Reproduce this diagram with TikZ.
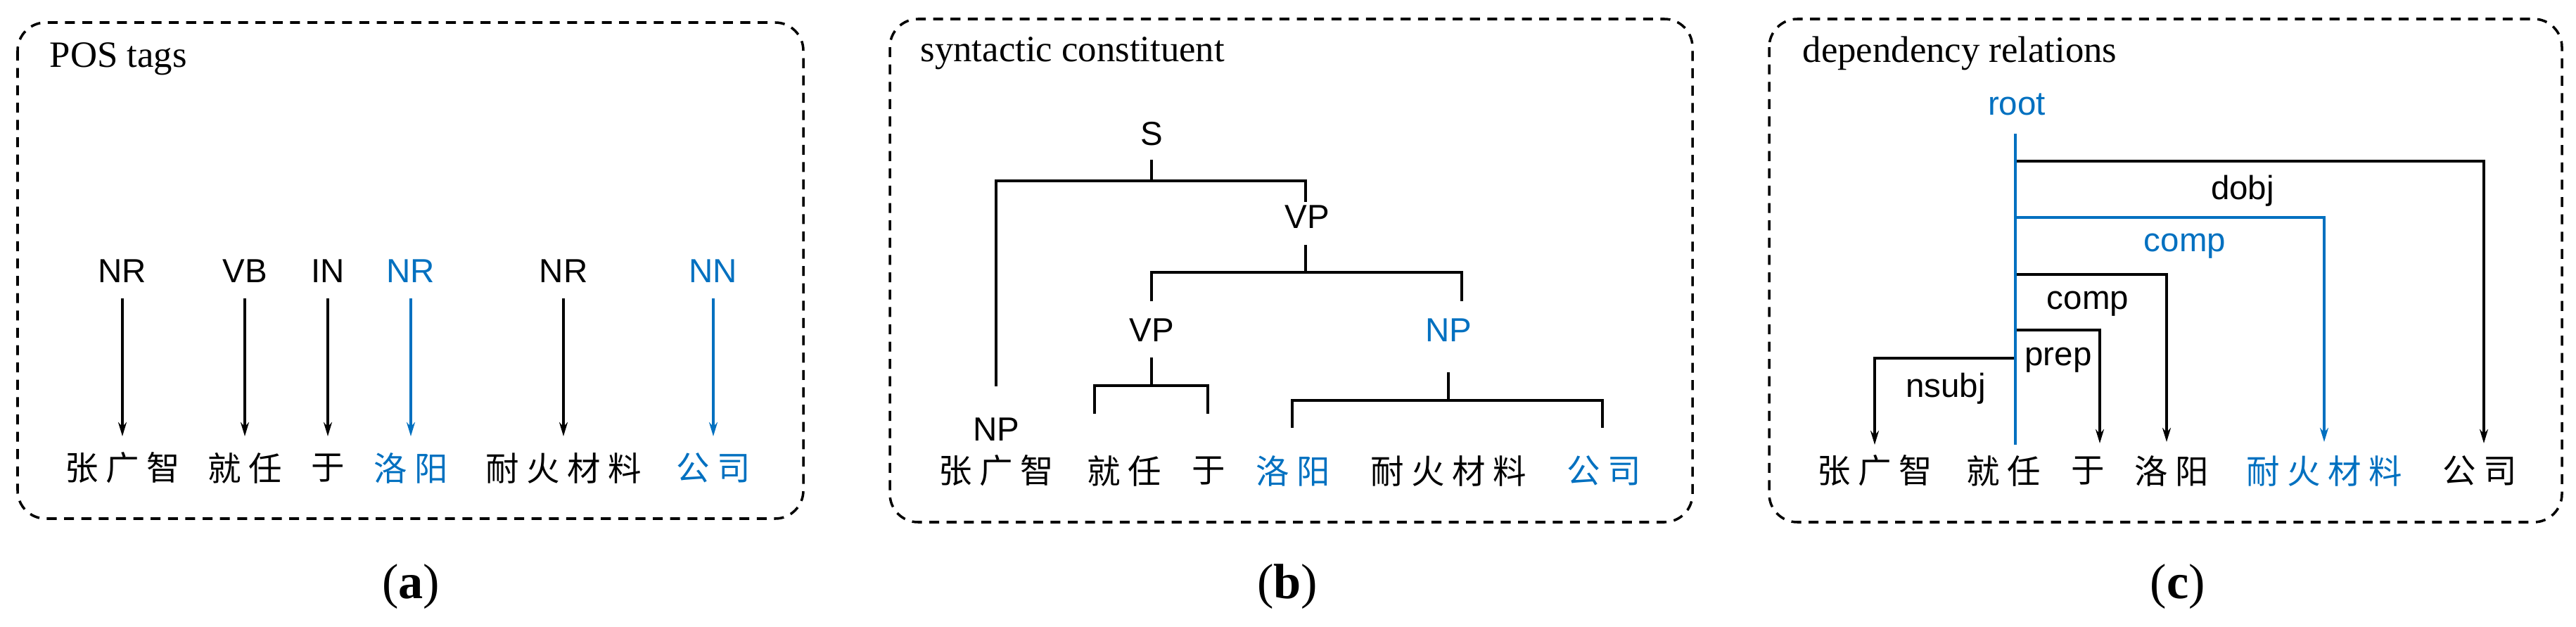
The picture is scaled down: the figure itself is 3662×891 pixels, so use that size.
\documentclass[tikz,border=0pt]{standalone}
\usepackage{fontspec}
\setmainfont{Liberation Serif}
\newfontfamily\tagf{Liberation Sans}
\newfontfamily\cjk[LetterSpace=22]{Noto Sans CJK SC}
\usetikzlibrary{arrows.meta}
\definecolor{myblue}{HTML}{0070C0}
\begin{document}
\begin{tikzpicture}[x=0.01cm,y=-0.01cm,
  lw/.style={line width=0.9pt},
  frame/.style={draw,dashed,line width=1pt,rounded corners=0.4cm,dash pattern=on 4pt off 3pt},
  ttl/.style={font=\fontsize{15}{17}\selectfont,anchor=west,inner sep=0},
  tag/.style={font=\tagf\fontsize{13.5}{15}\selectfont,inner sep=1pt},
  word/.style={font=\cjk\fontsize{13.5}{15}\selectfont,inner sep=1pt},
  captxt/.style={font=\fontsize{20}{22}\selectfont},
  arr/.style={lw,-{Stealth[length=0.2cm,width=0.12cm]}},
  blu/.style={text=myblue}]
\useasboundingbox (0,0) rectangle (3662,891);
% frames
\draw[frame] (25,32) rectangle (1142,737);
\draw[frame] (1265,27) rectangle (2406,742);
\draw[frame] (2515,27) rectangle (3642,742);
\node[ttl] (ta) at (70,84) {POS tags};
\node[ttl] (tb) at (1308,76) {syntactic constituent};
\node[ttl] (tc) at (2562,76) {dependency relations};
\node[captxt] (la) at (584,834) {(\textbf{a})};
\node[captxt] (lb) at (1830,834) {(\textbf{b})};
\node[captxt] (lc) at (3096,834) {(\textbf{c})};
% panel a
\foreach \n/\x/\t/\w/\c in {a1/174/NR/张广智/black,a2/348/VB/就任/black,a3/466/IN/于/black,a4/584/NR/洛阳/myblue,a5/801/NR/耐火材料/black,a6/1014/NN/公司/myblue}{
  \node[tag,text=\c] (t\n) at (\x,385) {\t};
  \node[word,text=\c] (w\n) at (\x,665) {\w};
  \draw[arr,draw=\c] (\x,424) -- (\x,620);
}
% panel b
\node[tag] (bS) at (1637,190) {S};
\node[tag] (bVP) at (1858,308) {VP};
\node[tag] (bVP2) at (1637,469) {VP};
\node[tag,blu] (bNP2) at (2059,469) {NP};
\node[tag] (bNP) at (1416,610) {NP};
\foreach \n/\x/\w/\c in {b1/1416/张广智/black,b2/1598/就任/black,b3/1718/于/black,b4/1838/洛阳/myblue,b5/2059/耐火材料/black,b6/2280/公司/myblue}{
  \node[word,text=\c] (w\n) at (\x,669) {\w};
}
\draw[lw] (1637,227) -- (1637,257);
\draw[lw] (1416,549) -- (1416,257) -- (1856,257) -- (1856,287);
\draw[lw] (1856,348) -- (1856,387);
\draw[line width=1.3pt] (1637,428) -- (1637,387) -- (2078,387) -- (2078,428);
\draw[lw] (1637,508) -- (1637,548);
\draw[line width=1.2pt] (1556,588) -- (1556,548) -- (1717,548) -- (1717,588);
\draw[lw] (2059,529) -- (2059,569);
\draw[line width=1.2pt] (1837,608) -- (1837,569) -- (2278,569) -- (2278,608);
% panel c
\node[tag,blu] (root) at (2867,148) {root};
\foreach \n/\x/\w/\c in {c1/2665/张广智/black,c2/2848/就任/black,c3/2968/于/black,c4/3087/洛阳/black,c5/3304/耐火材料/myblue,c6/3525/公司/black}{
  \node[word,text=\c] (w\n) at (\x,669) {\w};
}
\draw[arr] (2865,229) -- (3531,229) -- (3531,630);
\draw[arr,draw=myblue] (2865,309) -- (3304,309) -- (3304,628);
\draw[arr] (2865,390) -- (3080,390) -- (3080,628);
\draw[arr] (2865,469) -- (2985,469) -- (2985,630);
\draw[arr] (2865,509) -- (2665,509) -- (2665,632);
\draw[lw,draw=myblue] (2865,190) -- (2865,632);
\node[tag] (ldobj) at (3188,271) {dobj};
\node[tag,blu] (lcomp1) at (3106,350) {comp};
\node[tag] (lcomp2) at (2968,432) {comp};
\node[tag] (lprep) at (2926,512) {prep};
\node[tag] (lnsubj) at (2766,552) {nsubj};
\end{tikzpicture}
\end{document}
